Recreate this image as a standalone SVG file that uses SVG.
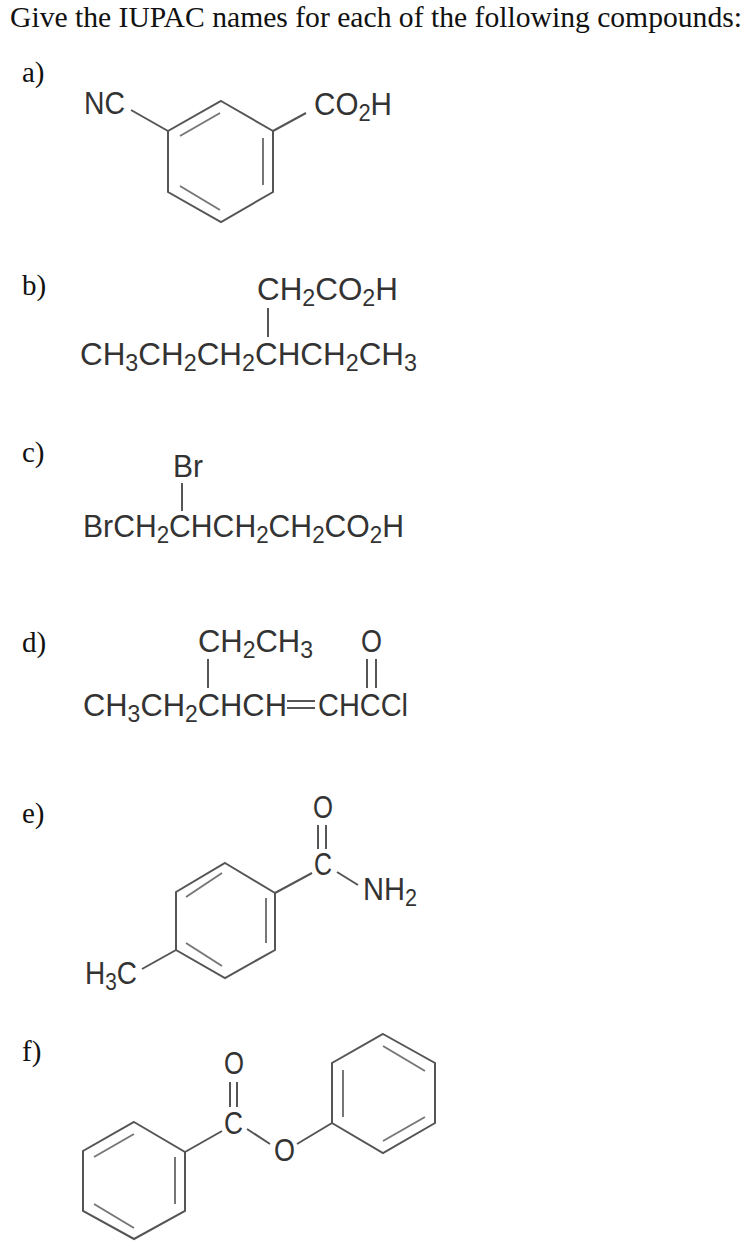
<svg xmlns="http://www.w3.org/2000/svg" width="752" height="1250" viewBox="0 0 752 1250">
<style>
.h{font-family:"Liberation Serif",serif;font-size:30px;fill:#111}
.l{font-family:"Liberation Serif",serif;font-size:29px;fill:#111}
.c{font-family:"Liberation Sans",Arial,sans-serif;font-size:31px;fill:#333}
.s{font-size:23px}
.b{fill:none;stroke:#555;stroke-width:2;stroke-linejoin:miter}
.t{fill:none;stroke:#777;stroke-width:2}
</style>
<rect width="752" height="1250" fill="#fff"/>
<g id="question"><text class="h" x="10" y="27" textLength="732" lengthAdjust="spacingAndGlyphs">Give the IUPAC names for each of the following compounds:</text></g>
<g id="labels">
<text class="l" x="22" y="82">a)</text>
<text class="l" x="22" y="295">b)</text>
<text class="l" x="22" y="462">c)</text>
<text class="l" x="22" y="652">d)</text>
<text class="l" x="22" y="823">e)</text>
<text class="l" x="22" y="1061">f)</text>
</g>
<g id="connectors">
<path class="b" d="M221 101L273 131V192L221 222L168 192V131ZM131 110L168 131M306 113L273 131"/>
<path class="t" d="M180 136L220 113M263 138V185M180 186L220 210"/>
<path class="b" d="M268 308V337M182 483V511M208 659V688M367 659V688M376 659V688M287 701H315M287 708H315"/>
<path class="b" d="M225 863L275 893V950L225 978L176 950V892ZM275 893L312 873M318 825V849M326 825V849M337 872L358 885M142 969L176 950"/>
<path class="t" d="M186 897L222 873M266 898V943M186 943L222 966"/>
<path class="b" d="M134 1122L185 1152V1211L134 1239L83 1211V1151ZM185 1152L222 1131M230 1082V1107M237 1082V1107M247 1129L270 1144M297 1144L332 1123"/>
<path class="t" d="M94 1157L134 1134M175 1157V1204M94 1204L134 1228"/>
<path class="b" d="M383 1034L435 1063V1123L383 1153L332 1123V1063Z"/>
<path class="t" d="M343 1070V1117M383 1046L425 1071M383 1141L425 1117"/>
</g>
<g id="a-NC"><text class="c" x="84" y="114" textLength="41" lengthAdjust="spacingAndGlyphs">NC</text></g>
<g id="a-CO2H"><text class="c" x="314" y="115" textLength="78" lengthAdjust="spacingAndGlyphs">CO<tspan class="s" dy="6">2</tspan><tspan dy="-6">H</tspan></text></g>
<g id="b-branch"><text class="c" x="257" y="300" textLength="141" lengthAdjust="spacingAndGlyphs">CH<tspan class="s" dy="6">2</tspan><tspan dy="-6">CO</tspan><tspan class="s" dy="6">2</tspan><tspan dy="-6">H</tspan></text></g>
<g id="b-chain"><text class="c" x="80" y="365" textLength="337" lengthAdjust="spacingAndGlyphs">CH<tspan class="s" dy="6">3</tspan><tspan dy="-6">CH</tspan><tspan class="s" dy="6">2</tspan><tspan dy="-6">CH</tspan><tspan class="s" dy="6">2</tspan><tspan dy="-6">CHCH</tspan><tspan class="s" dy="6">2</tspan><tspan dy="-6">CH</tspan><tspan class="s" dy="6">3</tspan></text></g>
<g id="c-Br"><text class="c" x="173" y="477" textLength="30" lengthAdjust="spacingAndGlyphs">Br</text></g>
<g id="c-chain"><text class="c" x="83" y="537" textLength="321" lengthAdjust="spacingAndGlyphs">BrCH<tspan class="s" dy="6">2</tspan><tspan dy="-6">CHCH</tspan><tspan class="s" dy="6">2</tspan><tspan dy="-6">CH</tspan><tspan class="s" dy="6">2</tspan><tspan dy="-6">CO</tspan><tspan class="s" dy="6">2</tspan><tspan dy="-6">H</tspan></text></g>
<g id="d-branch"><text class="c" x="198" y="652" textLength="115" lengthAdjust="spacingAndGlyphs">CH<tspan class="s" dy="6">2</tspan><tspan dy="-6">CH</tspan><tspan class="s" dy="6">3</tspan></text></g>
<g id="d-O"><text class="c" x="361" y="652" textLength="21" lengthAdjust="spacingAndGlyphs">O</text></g>
<g id="d-chain1"><text class="c" x="83" y="716" textLength="204" lengthAdjust="spacingAndGlyphs">CH<tspan class="s" dy="6">3</tspan><tspan dy="-6">CH</tspan><tspan class="s" dy="6">2</tspan><tspan dy="-6">CHCH</tspan></text></g>
<g id="d-chain2"><text class="c" x="318" y="716" textLength="90" lengthAdjust="spacingAndGlyphs">CHCCl</text></g>
<g id="e-O"><text class="c" x="313" y="818" textLength="20" lengthAdjust="spacingAndGlyphs">O</text></g>
<g id="e-C"><text class="c" x="314" y="875" textLength="18" lengthAdjust="spacingAndGlyphs">C</text></g>
<g id="e-NH2"><text class="c" x="363" y="900" textLength="54" lengthAdjust="spacingAndGlyphs">NH<tspan class="s" dy="6">2</tspan></text></g>
<g id="e-H3C"><text class="c" x="85" y="984" textLength="52" lengthAdjust="spacingAndGlyphs">H<tspan class="s" dy="6">3</tspan><tspan dy="-6">C</tspan></text></g>
<g id="f-O1"><text class="c" x="224" y="1074" textLength="20" lengthAdjust="spacingAndGlyphs">O</text></g>
<g id="f-C"><text class="c" x="224" y="1134" textLength="19" lengthAdjust="spacingAndGlyphs">C</text></g>
<g id="f-O2"><text class="c" x="274" y="1161" textLength="21" lengthAdjust="spacingAndGlyphs">O</text></g>
</svg>
